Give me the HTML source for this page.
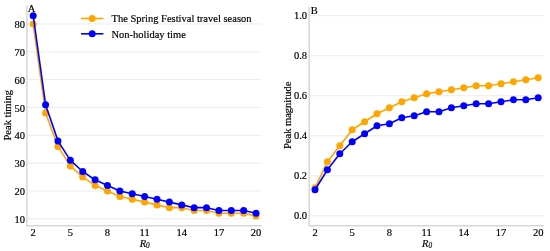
<!DOCTYPE html><html><head><meta charset="utf-8"><title>Peak timing and magnitude</title>
<style>html,body{margin:0;padding:0;background:#fff}svg{display:block}text{font-family:"Liberation Serif","Times New Roman",serif;fill:#000;stroke:#000;stroke-width:0.18px}</style></head><body>
<svg width="550" height="251" viewBox="0 0 550 251">
<rect width="550" height="251" fill="#fff"/>
<line x1="26.9" x2="261.5" y1="218.80" y2="218.80" stroke="#ececec" stroke-width="1"/>
<line x1="26.9" x2="261.5" y1="190.97" y2="190.97" stroke="#ececec" stroke-width="1"/>
<line x1="26.9" x2="261.5" y1="163.14" y2="163.14" stroke="#ececec" stroke-width="1"/>
<line x1="26.9" x2="261.5" y1="135.31" y2="135.31" stroke="#ececec" stroke-width="1"/>
<line x1="26.9" x2="261.5" y1="107.48" y2="107.48" stroke="#ececec" stroke-width="1"/>
<line x1="26.9" x2="261.5" y1="79.65" y2="79.65" stroke="#ececec" stroke-width="1"/>
<line x1="26.9" x2="261.5" y1="51.82" y2="51.82" stroke="#ececec" stroke-width="1"/>
<line x1="26.9" x2="261.5" y1="23.99" y2="23.99" stroke="#ececec" stroke-width="1"/>
<path d="M26.9 5.6V225.8H261.5" fill="none" stroke="#d6d6d6" stroke-width="1.5"/>
<text x="24.9" y="223" font-size="10.5" text-anchor="end">10</text>
<text x="24.9" y="195" font-size="10.5" text-anchor="end">20</text>
<text x="24.9" y="167" font-size="10.5" text-anchor="end">30</text>
<text x="24.9" y="139" font-size="10.5" text-anchor="end">40</text>
<text x="24.9" y="112" font-size="10.5" text-anchor="end">50</text>
<text x="24.9" y="84" font-size="10.5" text-anchor="end">60</text>
<text x="24.9" y="56" font-size="10.5" text-anchor="end">70</text>
<text x="24.9" y="28" font-size="10.5" text-anchor="end">80</text>
<text x="33.20" y="236.1" font-size="10.5" text-anchor="middle">2</text>
<text x="70.34" y="236.1" font-size="10.5" text-anchor="middle">5</text>
<text x="107.48" y="236.1" font-size="10.5" text-anchor="middle">8</text>
<text x="144.62" y="236.1" font-size="10.5" text-anchor="middle">11</text>
<text x="181.76" y="236.1" font-size="10.5" text-anchor="middle">14</text>
<text x="218.90" y="236.1" font-size="10.5" text-anchor="middle">17</text>
<text x="256.04" y="236.1" font-size="10.5" text-anchor="middle">20</text>
<polyline points="33.20,23.99 45.58,113.05 57.96,146.44 70.34,165.92 82.72,177.06 95.10,185.40 107.48,190.97 119.86,196.54 132.24,199.32 144.62,202.10 157.00,204.89 169.38,207.67 181.76,207.67 194.14,210.45 206.52,210.45 218.90,213.23 231.28,213.23 243.66,213.23 256.04,216.02" fill="none" stroke="#ffa500" stroke-width="1.6" stroke-linejoin="round"/>
<circle cx="33.20" cy="23.99" r="3.5" fill="#ffa500"/>
<circle cx="45.58" cy="113.05" r="3.5" fill="#ffa500"/>
<circle cx="57.96" cy="146.44" r="3.5" fill="#ffa500"/>
<circle cx="70.34" cy="165.92" r="3.5" fill="#ffa500"/>
<circle cx="82.72" cy="177.06" r="3.5" fill="#ffa500"/>
<circle cx="95.10" cy="185.40" r="3.5" fill="#ffa500"/>
<circle cx="107.48" cy="190.97" r="3.5" fill="#ffa500"/>
<circle cx="119.86" cy="196.54" r="3.5" fill="#ffa500"/>
<circle cx="132.24" cy="199.32" r="3.5" fill="#ffa500"/>
<circle cx="144.62" cy="202.10" r="3.5" fill="#ffa500"/>
<circle cx="157.00" cy="204.89" r="3.5" fill="#ffa500"/>
<circle cx="169.38" cy="207.67" r="3.5" fill="#ffa500"/>
<circle cx="181.76" cy="207.67" r="3.5" fill="#ffa500"/>
<circle cx="194.14" cy="210.45" r="3.5" fill="#ffa500"/>
<circle cx="206.52" cy="210.45" r="3.5" fill="#ffa500"/>
<circle cx="218.90" cy="213.23" r="3.5" fill="#ffa500"/>
<circle cx="231.28" cy="213.23" r="3.5" fill="#ffa500"/>
<circle cx="243.66" cy="213.23" r="3.5" fill="#ffa500"/>
<circle cx="256.04" cy="216.02" r="3.5" fill="#ffa500"/>
<polyline points="33.20,15.64 45.58,104.70 57.96,140.88 70.34,160.36 82.72,171.49 95.10,179.84 107.48,185.40 119.86,190.97 132.24,193.75 144.62,196.54 157.00,199.32 169.38,202.10 181.76,204.89 194.14,207.67 206.52,207.67 218.90,210.45 231.28,210.45 243.66,210.45 256.04,213.23" fill="none" stroke="#0000ff" stroke-width="1.6" stroke-linejoin="round"/>
<circle cx="33.20" cy="15.64" r="3.5" fill="#0000ff"/>
<circle cx="45.58" cy="104.70" r="3.5" fill="#0000ff"/>
<circle cx="57.96" cy="140.88" r="3.5" fill="#0000ff"/>
<circle cx="70.34" cy="160.36" r="3.5" fill="#0000ff"/>
<circle cx="82.72" cy="171.49" r="3.5" fill="#0000ff"/>
<circle cx="95.10" cy="179.84" r="3.5" fill="#0000ff"/>
<circle cx="107.48" cy="185.40" r="3.5" fill="#0000ff"/>
<circle cx="119.86" cy="190.97" r="3.5" fill="#0000ff"/>
<circle cx="132.24" cy="193.75" r="3.5" fill="#0000ff"/>
<circle cx="144.62" cy="196.54" r="3.5" fill="#0000ff"/>
<circle cx="157.00" cy="199.32" r="3.5" fill="#0000ff"/>
<circle cx="169.38" cy="202.10" r="3.5" fill="#0000ff"/>
<circle cx="181.76" cy="204.89" r="3.5" fill="#0000ff"/>
<circle cx="194.14" cy="207.67" r="3.5" fill="#0000ff"/>
<circle cx="206.52" cy="207.67" r="3.5" fill="#0000ff"/>
<circle cx="218.90" cy="210.45" r="3.5" fill="#0000ff"/>
<circle cx="231.28" cy="210.45" r="3.5" fill="#0000ff"/>
<circle cx="243.66" cy="210.45" r="3.5" fill="#0000ff"/>
<circle cx="256.04" cy="213.23" r="3.5" fill="#0000ff"/>
<text x="27.8" y="11.6" font-size="10.5">A</text>
<text transform="translate(11.1,115.3) rotate(-90)" font-size="10.5" text-anchor="middle">Peak timing</text>
<text x="144.7" y="247" font-size="10.5" font-style="italic" text-anchor="middle">R<tspan font-size="7.3" dy="1.4">0</tspan></text>
<line x1="81" x2="103.4" y1="18.5" y2="18.5" stroke="#ffa500" stroke-width="1.6"/><circle cx="92.2" cy="18.5" r="3.5" fill="#ffa500"/>
<line x1="81" x2="103.4" y1="33.8" y2="33.8" stroke="#0000ff" stroke-width="1.6"/><circle cx="92.2" cy="33.8" r="3.5" fill="#0000ff"/>
<text x="111.5" y="22.4" font-size="10.5">The Spring Festival travel season</text>
<text x="111.5" y="37.5" font-size="10.5">Non-holiday time</text>
<line x1="309.2" x2="544.2" y1="215.80" y2="215.80" stroke="#ececec" stroke-width="1"/>
<line x1="309.2" x2="544.2" y1="175.78" y2="175.78" stroke="#ececec" stroke-width="1"/>
<line x1="309.2" x2="544.2" y1="135.76" y2="135.76" stroke="#ececec" stroke-width="1"/>
<line x1="309.2" x2="544.2" y1="95.74" y2="95.74" stroke="#ececec" stroke-width="1"/>
<line x1="309.2" x2="544.2" y1="55.72" y2="55.72" stroke="#ececec" stroke-width="1"/>
<line x1="309.2" x2="544.2" y1="15.70" y2="15.70" stroke="#ececec" stroke-width="1"/>
<path d="M309.2 6.7V225.8H544.2" fill="none" stroke="#d6d6d6" stroke-width="1.5"/>
<text x="307" y="219" font-size="10.5" text-anchor="end">0.0</text>
<text x="307" y="179" font-size="10.5" text-anchor="end">0.2</text>
<text x="307" y="139" font-size="10.5" text-anchor="end">0.4</text>
<text x="307" y="99" font-size="10.5" text-anchor="end">0.6</text>
<text x="307" y="59" font-size="10.5" text-anchor="end">0.8</text>
<text x="307" y="19" font-size="10.5" text-anchor="end">1.0</text>
<text x="315.00" y="236.1" font-size="10.5" text-anchor="middle">2</text>
<text x="352.20" y="236.1" font-size="10.5" text-anchor="middle">5</text>
<text x="389.40" y="236.1" font-size="10.5" text-anchor="middle">8</text>
<text x="426.60" y="236.1" font-size="10.5" text-anchor="middle">11</text>
<text x="463.80" y="236.1" font-size="10.5" text-anchor="middle">14</text>
<text x="501.00" y="236.1" font-size="10.5" text-anchor="middle">17</text>
<text x="538.20" y="236.1" font-size="10.5" text-anchor="middle">20</text>
<polyline points="315.00,187.79 327.40,161.77 339.80,145.77 352.20,129.76 364.60,121.75 377.00,113.75 389.40,107.75 401.80,101.74 414.20,97.74 426.60,93.74 439.00,91.74 451.40,89.74 463.80,87.74 476.20,85.74 488.60,85.74 501.00,83.73 513.40,81.73 525.80,79.73 538.20,77.73" fill="none" stroke="#ffa500" stroke-width="1.6" stroke-linejoin="round"/>
<circle cx="315.00" cy="187.79" r="3.5" fill="#ffa500"/>
<circle cx="327.40" cy="161.77" r="3.5" fill="#ffa500"/>
<circle cx="339.80" cy="145.77" r="3.5" fill="#ffa500"/>
<circle cx="352.20" cy="129.76" r="3.5" fill="#ffa500"/>
<circle cx="364.60" cy="121.75" r="3.5" fill="#ffa500"/>
<circle cx="377.00" cy="113.75" r="3.5" fill="#ffa500"/>
<circle cx="389.40" cy="107.75" r="3.5" fill="#ffa500"/>
<circle cx="401.80" cy="101.74" r="3.5" fill="#ffa500"/>
<circle cx="414.20" cy="97.74" r="3.5" fill="#ffa500"/>
<circle cx="426.60" cy="93.74" r="3.5" fill="#ffa500"/>
<circle cx="439.00" cy="91.74" r="3.5" fill="#ffa500"/>
<circle cx="451.40" cy="89.74" r="3.5" fill="#ffa500"/>
<circle cx="463.80" cy="87.74" r="3.5" fill="#ffa500"/>
<circle cx="476.20" cy="85.74" r="3.5" fill="#ffa500"/>
<circle cx="488.60" cy="85.74" r="3.5" fill="#ffa500"/>
<circle cx="501.00" cy="83.73" r="3.5" fill="#ffa500"/>
<circle cx="513.40" cy="81.73" r="3.5" fill="#ffa500"/>
<circle cx="525.80" cy="79.73" r="3.5" fill="#ffa500"/>
<circle cx="538.20" cy="77.73" r="3.5" fill="#ffa500"/>
<polyline points="315.00,189.79 327.40,169.78 339.80,153.77 352.20,141.76 364.60,133.76 377.00,125.76 389.40,123.75 401.80,117.75 414.20,115.75 426.60,111.75 439.00,111.75 451.40,107.75 463.80,105.75 476.20,103.74 488.60,103.74 501.00,101.74 513.40,99.74 525.80,99.74 538.20,97.74" fill="none" stroke="#0000ff" stroke-width="1.6" stroke-linejoin="round"/>
<circle cx="315.00" cy="189.79" r="3.5" fill="#0000ff"/>
<circle cx="327.40" cy="169.78" r="3.5" fill="#0000ff"/>
<circle cx="339.80" cy="153.77" r="3.5" fill="#0000ff"/>
<circle cx="352.20" cy="141.76" r="3.5" fill="#0000ff"/>
<circle cx="364.60" cy="133.76" r="3.5" fill="#0000ff"/>
<circle cx="377.00" cy="125.76" r="3.5" fill="#0000ff"/>
<circle cx="389.40" cy="123.75" r="3.5" fill="#0000ff"/>
<circle cx="401.80" cy="117.75" r="3.5" fill="#0000ff"/>
<circle cx="414.20" cy="115.75" r="3.5" fill="#0000ff"/>
<circle cx="426.60" cy="111.75" r="3.5" fill="#0000ff"/>
<circle cx="439.00" cy="111.75" r="3.5" fill="#0000ff"/>
<circle cx="451.40" cy="107.75" r="3.5" fill="#0000ff"/>
<circle cx="463.80" cy="105.75" r="3.5" fill="#0000ff"/>
<circle cx="476.20" cy="103.74" r="3.5" fill="#0000ff"/>
<circle cx="488.60" cy="103.74" r="3.5" fill="#0000ff"/>
<circle cx="501.00" cy="101.74" r="3.5" fill="#0000ff"/>
<circle cx="513.40" cy="99.74" r="3.5" fill="#0000ff"/>
<circle cx="525.80" cy="99.74" r="3.5" fill="#0000ff"/>
<circle cx="538.20" cy="97.74" r="3.5" fill="#0000ff"/>
<text x="310.7" y="13.9" font-size="10.5">B</text>
<text transform="translate(290.8,115.35) rotate(-90)" font-size="10.5" text-anchor="middle">Peak magnitude</text>
<text x="427" y="247" font-size="10.5" font-style="italic" text-anchor="middle">R<tspan font-size="7.3" dy="1.4">0</tspan></text>
</svg></body></html>
